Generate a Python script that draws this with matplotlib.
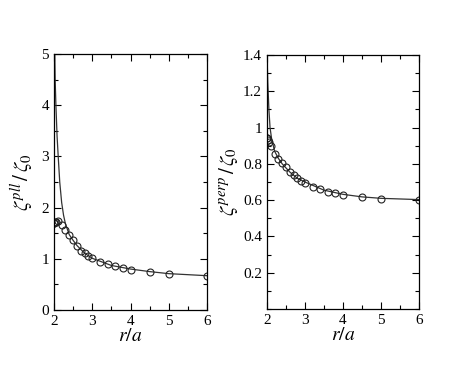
import numpy as np
import matplotlib
matplotlib.use('Agg')
import matplotlib.pyplot as plt
from matplotlib.ticker import MultipleLocator, FixedLocator

plt.rcParams['font.family'] = ['Liberation Serif', 'DejaVu Serif']
plt.rcParams['mathtext.fontset'] = 'stix'

# 模拟数据点 (r/a)
r_pts = [2.0, 2.01, 2.02, 2.05, 2.1, 2.2, 2.3, 2.4, 2.5, 2.6, 2.7, 2.8, 2.9, 3.0,
         3.2, 3.4, 3.6, 3.8, 4.0, 4.5, 5.0, 6.0]
zeta_pll_pts = [1.70, 1.70, 1.71, 1.72, 1.73, 1.66, 1.56, 1.46, 1.36, 1.25, 1.16, 1.11,
                1.06, 1.01, 0.94, 0.89, 0.85, 0.82, 0.79, 0.74, 0.71, 0.66]
zeta_perp_pts = [0.94, 0.94, 0.93, 0.92, 0.90, 0.853, 0.825, 0.803, 0.784, 0.755, 0.736,
                 0.72, 0.707, 0.695, 0.675, 0.66, 0.646, 0.638, 0.631, 0.617, 0.607, 0.602]

# 理论曲线
r_pll_curve = [2.012, 2.02, 2.03, 2.05, 2.08, 2.11, 2.15, 2.2, 2.25, 2.3, 2.4, 2.5, 2.6,
               2.8, 3.0, 3.5, 4.0, 4.5, 5.0, 6.0]
zeta_pll_curve = [5.3, 5.0, 4.5, 4.0, 3.4, 3.0, 2.5, 2.1, 1.85, 1.68, 1.47, 1.36, 1.26,
                  1.11, 1.01, 0.87, 0.80, 0.75, 0.71, 0.67]
r_perp_curve = [2.003, 2.01, 2.02, 2.03, 2.05, 2.08, 2.12, 2.2, 2.3, 2.4, 2.6, 2.8, 3.0,
                3.5, 4.0, 4.5, 5.0, 6.0]
zeta_perp_curve = [1.45, 1.33, 1.25, 1.20, 1.10, 1.00, 0.94, 0.87, 0.83, 0.80, 0.755,
                   0.72, 0.70, 0.655, 0.632, 0.618, 0.61, 0.603]


def style_axes(ax):
    ax.tick_params(which='both', direction='in', top=True, right=True, labelsize=11)
    ax.tick_params(which='major', length=5, width=0.8)
    ax.tick_params(which='minor', length=3, width=0.8)
    for s in ax.spines.values():
        s.set_linewidth(0.9)
    ax.set_xlim(2, 6)
    ax.xaxis.set_major_locator(MultipleLocator(1))
    ax.xaxis.set_minor_locator(MultipleLocator(0.5))
    ax.set_xlabel('$r/a$', fontsize=14, labelpad=0)


fig = plt.figure(figsize=(4.74, 3.66), dpi=100)
ax1 = fig.add_axes([54 / 474, 1 - 310 / 366, 153 / 474, 256 / 366])
ax2 = fig.add_axes([267 / 474, 1 - 309 / 366, 152 / 474, 254 / 366])

ax1.plot(r_pll_curve, zeta_pll_curve, color='#333333', lw=0.9)
ax1.plot(r_pts, zeta_pll_pts, 'o', mfc='none', mec='#222222', ms=5, mew=0.8)
style_axes(ax1)
ax1.set_ylim(0, 5)
ax1.yaxis.set_major_locator(MultipleLocator(1))
ax1.yaxis.set_minor_locator(MultipleLocator(0.5))
ax1.set_ylabel(r'$\zeta^{pll}\,/\,\zeta_0$', fontsize=15, labelpad=4)

ax2.plot(r_perp_curve, zeta_perp_curve, color='#333333', lw=0.9)
ax2.plot(r_pts, zeta_perp_pts, 'o', mfc='none', mec='#222222', ms=5, mew=0.8)
style_axes(ax2)
ax2.set_ylim(0, 1.4)
ax2.yaxis.set_major_locator(FixedLocator([0.2, 0.4, 0.6, 0.8, 1.0, 1.2, 1.4]))
ax2.yaxis.set_minor_locator(MultipleLocator(0.1))
ax2.set_yticklabels(['0.2', '0.4', '0.6', '0.8', '1', '1.2', '1.4'])
ax2.set_ylabel(r'$\zeta^{perp}\,/\,\zeta_0$', fontsize=15, labelpad=2)

fig.savefig('out.png', dpi=100)
